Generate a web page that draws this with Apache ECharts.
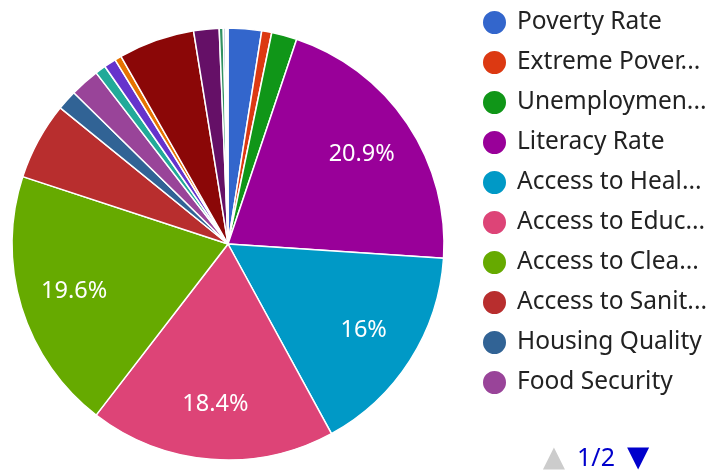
<!DOCTYPE html>
<html>
<head>
<meta charset="utf-8">
<script src="https://cdn.jsdelivr.net/npm/echarts@6/dist/echarts.min.js"></script>
<style>
  html, body { margin: 0; padding: 0; background: #fff; }
  #chart { width: 712px; height: 476px; }
</style>
</head>
<body>
<div id="chart"></div>
<script>
const categories = [
  "Poverty Rate", "Extreme Poverty Rate", "Unemployment Rate", "Literacy Rate",
  "Access to Healthcare", "Access to Education", "Access to Clean Water",
  "Access to Sanitation", "Housing Quality", "Food Security",
  "Child Mortality", "Income Inequality", "Social Protection", "Informal Employment",
  "Gender Gap", "Internet Access", "Electricity Access", "Child Labour", "Malnutrition"
];
const values = [
  2.5, 0.75, 1.9, 20.9,
  16, 18.4, 19.6,
  5.8, 1.5, 2.2,
  0.8, 0.9, 0.5, 5.7,
  1.9, 0.3, 0.15, 0.1, 0.1
];
const colors = [
  "#3366cc", "#dc3912", "#109618", "#990099",
  "#0099c6", "#dd4477", "#66aa00",
  "#b82e2e", "#316395", "#994499",
  "#22aa99", "#6633cc", "#e67300", "#8b0707",
  "#651067", "#329262", "#5574a6", "#3b3eac", "#b77322"
];

const chart = echarts.init(document.getElementById("chart"));
const center = [228, 244];
const pieData = categories.map((name, i) => ({ name, value: values[i] }));

const option = {
  animation: false,
  color: colors,
  textStyle: { fontFamily: "Noto Sans" },
  legend: {
    type: "scroll",
    orient: "vertical",
    left: 476,
    top: 4,
    bottom: -6,
    icon: "circle",
    itemWidth: 35,
    itemHeight: 25,
    itemGap: 13,
    data: categories,
    textStyle: {
      fontSize: 24.5,
      color: "#222",
      width: 197,
      overflow: "truncate"
    },
    pageButtonGap: 40,
    pageButtonItemGap: 0,
    pageIconSize: [24, 22],
    pageIconColor: "#0000cc",
    pageIconInactiveColor: "#cccccc",
    pageTextStyle: { fontSize: 25, color: "#0000cc" }
  },
  series: [
    {
      type: "pie",
      center: center,
      radius: 216,
      startAngle: 90,
      data: pieData,
      itemStyle: { borderColor: "#fff", borderWidth: 1.5 },
      label: { show: false },
      labelLine: { show: false }
    },
    {
      // transparent overlay only to place the percentage labels
      type: "pie",
      center: center,
      radius: [100, 216],
      startAngle: 90,
      silent: true,
      data: pieData,
      itemStyle: { color: "transparent", borderWidth: 0 },
      label: {
        show: true,
        position: "inside",
        color: "#fff",
        fontSize: 23.5,
        fontFamily: "Noto Sans",
        formatter: (p) => (p.percent >= 10 ? p.percent + "%" : "")
      },
      labelLine: { show: false }
    }
  ]
};

chart.setOption(option);
</script>
</body>
</html>
